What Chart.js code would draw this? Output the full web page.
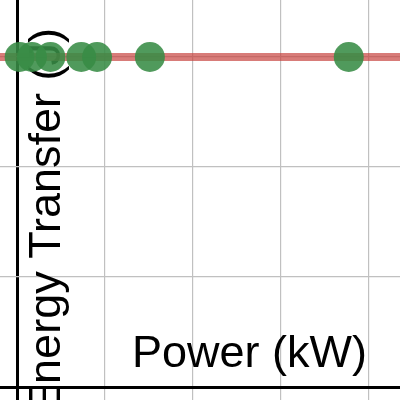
<!DOCTYPE html>
<html><head><style>html,body{margin:0;padding:0;background:#fff}#w{width:400px;height:400px}</style>
<script src="https://cdn.jsdelivr.net/npm/chart.js@4"></script></head>
<body><div id="w"><canvas id="c" width="400" height="400"></canvas></div>
<script>
const powerKW = [0.03, 0.17, 0.38, 0.73, 0.91, 1.51, 3.77];
const energyJ = [3, 3, 3, 3, 3, 3, 3];
const lineX = [-1, 5];
const lineY = [3, 3];
const xGridValues = [0, 1, 2, 3, 4];
const yGridValues = [0, 1, 2, 3];
const xTitle = 'Power (kW)';
const yTitle = 'Energy Transfer (J)';

const labelsPlugin = {
  id: 'labels',
  beforeDatasetsDraw(chart) {
    const ctx = chart.ctx;
    ctx.save();
    ctx.fillStyle = '#000';
    ctx.font = '45px "Liberation Sans", Arial, sans-serif';
    ctx.textBaseline = 'alphabetic';
    ctx.textAlign = 'left';
    ctx.fillText(xTitle, 132, 367);
    ctx.translate(60, 28);
    ctx.rotate(-Math.PI / 2);
    ctx.textAlign = 'right';
    ctx.fillText(yTitle, 0, 0);
    ctx.restore();
  }
};

const gridOpts = {
  color: c => c.tick && c.tick.value === 0 ? '#000' : '#c0c0c0',
  lineWidth: c => c.tick && c.tick.value === 0 ? 3 : 1.2,
  drawTicks: false
};

new Chart(document.getElementById('c'), {
  type: 'scatter',
  data: {
    datasets: [
      { type: 'line', data: lineX.map((x, i) => ({ x, y: lineY[i] })), borderColor: 'rgba(199,68,64,0.7)', borderWidth: 8, pointRadius: 0, order: 2 },
      { data: powerKW.map((x, i) => ({ x, y: energyJ[i] })), backgroundColor: 'rgba(56,140,70,0.88)', borderWidth: 0, pointRadius: 15, order: 1 }
    ]
  },
  options: {
    responsive: false, animation: false,
    layout: { padding: 0, autoPadding: false },
    plugins: { legend: { display: false }, tooltip: { enabled: false } },
    scales: {
      x: { type: 'linear', min: -17 / 88, max: 383 / 88, ticks: { display: false }, grid: gridOpts, border: { display: false },
           afterBuildTicks: s => { s.ticks = xGridValues.map(v => ({ value: v })); } },
      y: { type: 'linear', min: -13 / 110, max: 387 / 110, ticks: { display: false }, grid: gridOpts, border: { display: false },
           afterBuildTicks: s => { s.ticks = yGridValues.map(v => ({ value: v })); } }
    }
  },
  plugins: [labelsPlugin]
});
</script></body></html>
